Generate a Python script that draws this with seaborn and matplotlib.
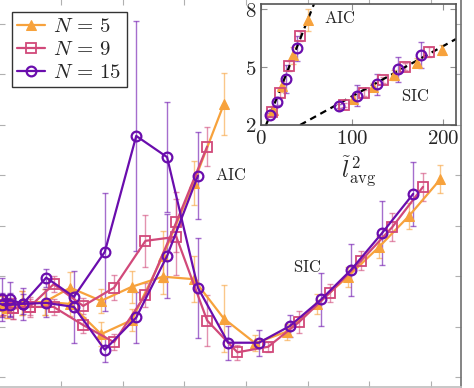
import matplotlib
matplotlib.use("Agg")
import matplotlib.pyplot as plt
import seaborn as sns
import pandas as pd

# ---------------- main panel data ----------------
x5 = [0.05, 0.12, 0.37, 0.74, 1.15, 1.65, 2.15, 2.65, 3.15, 3.64, 4.15, 4.66, 5.15, 5.65, 6.15, 6.64, 7.15]
sic5 = [1.41, 1.37, 1.46, 1.49, 1.77, 1.51, 1.79, 1.99, 1.94, 1.16, 0.67, 0.90, 1.45, 1.99, 2.57, 3.19, 3.92]
sic5_err = [0.2, 0.2, 0.24, 0.26, 0.32, 0.24, 0.32, 0.34, 0.46, 0.67, 0.16, 0.16, 0.2, 0.2, 0.22, 0.26, 0.28]
aic5 = [1.41, 1.37, 1.46, 1.49, 1.45, 0.85, 1.13, 2.39, 3.85, 5.41]
aic5_err = [0.2, 0.2, 0.24, 0.26, 0.24, 0.24, 0.22, 0.5, 0.43, 0.61]

x9 = [0.06, 0.22, 0.49, 0.88, 1.36, 1.86, 2.37, 2.87, 3.37, 3.86, 4.36, 4.86, 5.36, 5.87, 6.37, 6.87]
sic9 = [1.43, 1.36, 1.39, 1.84, 1.41, 1.77, 2.70, 2.78, 1.12, 0.49, 0.60, 1.09, 1.67, 2.31, 2.97, 3.77]
sic9_err = [0.2, 0.2, 0.2, 0.16, 0.16, 0.25, 0.52, 0.75, 0.51, 0.15, 0.1, 0.21, 0.18, 0.18, 0.28, 0.28]
aic9 = [1.43, 1.36, 1.39, 1.39, 1.03, 0.69, 1.63, 3.07, 4.57]
aic9_err = [0.2, 0.2, 0.16, 0.16, 0.16, 0.16, 0.24, 0.6, 0.39]

x15 = [0.05, 0.17, 0.38, 0.76, 1.21, 1.71, 2.22, 2.72, 3.22, 3.71, 4.21, 4.71, 5.22, 5.70, 6.21, 6.71]
sic15 = [1.54, 1.54, 1.45, 1.97, 1.59, 2.48, 4.78, 4.36, 1.77, 0.68, 0.68, 1.01, 1.54, 2.12, 2.86, 3.63]
sic15_err = [0.42, 0.34, 0.32, 0.18, 0.12, 1.17, 2.28, 1.09, 0.99, 0.34, 0.26, 0.21, 0.52, 0.52, 0.63, 0.64]
aic15 = [1.43, 1.43, 1.45, 1.47, 1.39, 0.54, 1.18, 2.40, 3.99]
aic15_err = [0.24, 0.24, 0.2, 0.28, 0.71, 0.24, 0.5, 0.83, 0.86]

# ---------------- inset data ----------------
l2_aic5 = [13.0, 23.0, 35.0, 51.3]
aic5_in = [2.80, 4.00, 5.60, 7.44]
aic5_in_err = [0.2, 0.3, 0.45, 0.58]
l2_aic9 = [11.7, 20.9, 31.1, 42.9]
aic9_in = [2.69, 3.64, 5.07, 6.58]
aic9_in_err = [0.15, 0.2, 0.26, 0.26]
l2_aic15 = [9.9, 17.9, 27.5, 39.2]
aic15_in = [2.52, 3.21, 4.40, 5.97]
aic15_in_err = [0.12, 0.2, 0.72, 0.65]

l2_sic5 = [101.0, 123.4, 146.0, 171.0, 199.0]
sic5_in = [3.35, 3.95, 4.59, 5.23, 5.88]
sic5_in_err = [0.15, 0.2, 0.25, 0.25, 0.26]
l2_sic9 = [91.2, 112.5, 134.4, 157.5, 183.9]
sic9_in = [3.04, 3.64, 4.33, 5.02, 5.77]
sic9_in_err = [0.12, 0.15, 0.15, 0.2, 0.26]
l2_sic15 = [85.7, 105.0, 127.0, 150.0, 176.0]
sic15_in = [3.00, 3.52, 4.10, 4.88, 5.63]
sic15_in_err = [0.1, 0.54, 0.55, 0.65, 0.66]

aic_fit = (0.119, 1.34)   # slope, intercept
sic_fit = (0.026, 0.885)

labels = [r"$N\,=\,5$", r"$N\,=\,9$", r"$N\,=\,15$"]
colors = ["#F7A23C", "#D1497A", "#6A0DAD"]

sns.set_theme(style="ticks")
plt.rcParams["mathtext.fontset"] = "cm"
plt.rcParams["font.family"] = ["DejaVu Serif"]

W, H = 474, 388
fig = plt.figure(figsize=(W / 100, H / 100), dpi=100)
ax = fig.add_axes([-0.67 / W, 1 / H, 461.67 / W, 388 / H])

series = [
    (x5, sic5, sic5_err, aic5, aic5_err),
    (x9, sic9, sic9_err, aic9, aic9_err),
    (x15, sic15, sic15_err, aic15, aic15_err),
]

def mstyle(i):
    if i == 0:
        return dict(marker="^", markersize=6.5, markerfacecolor=colors[0], markeredgecolor=colors[0])
    if i == 1:
        return dict(marker="s", markersize=6.5, markerfacecolor="none", markeredgecolor=colors[1], markeredgewidth=1.3)
    return dict(marker="o", markersize=7, markerfacecolor="none", markeredgecolor=colors[2], markeredgewidth=1.6)

for i, (xs, sic, sice, aic, aice) in enumerate(series):
    c = colors[i]
    xa = xs[:len(aic)]
    ax.errorbar(xs, sic, yerr=sice, fmt="none", ecolor=c, alpha=0.6, elinewidth=1.0, capsize=2.3, capthick=1.0, zorder=1)
    ax.errorbar(xa, aic, yerr=aice, fmt="none", ecolor=c, alpha=0.6, elinewidth=1.0, capsize=2.3, capthick=1.0, zorder=1)
    sns.lineplot(x=xs, y=sic, ax=ax, color=c, lw=1.6, label=labels[i], estimator=None,
                 errorbar=None, zorder=3 + i, **mstyle(i))
    sns.lineplot(x=xa, y=aic, ax=ax, color=c, lw=1.6, estimator=None,
                 errorbar=None, zorder=3 + i, **mstyle(i))

ax.set_xlim(0, 7.486)
ax.set_ylim(-0.198, 7.495)
ax.set_xticks(range(1, 8))
ax.set_yticks(range(0, 8))
ax.set_xticklabels([])
ax.set_yticklabels([])
ax.tick_params(direction="in", length=4.5, width=0.8, color="#b0b0b0", top=True, right=True)
for s in ["top", "left"]:
    ax.spines[s].set_visible(False)
ax.spines["right"].set_color("#707070")
ax.spines["right"].set_linewidth(1.2)
ax.spines["bottom"].set_color("#c0c0c0")
ax.set_xlabel("")
ax.set_ylabel("")

ax.text(3.757, 3.986, r"$\mathrm{AIC}$", fontsize=12, ha="center", va="center")
ax.text(4.989, 2.181, r"$\mathrm{SIC}$", fontsize=12, ha="center", va="center")

leg = ax.legend(loc="upper left", bbox_to_anchor=((11.7 + 0.67) / 461.67, 1 - 12.7 / 388),
                borderaxespad=0, fontsize=15, frameon=True, fancybox=False, framealpha=1,
                edgecolor="#333333", handlelength=1.35, handletextpad=0.4, labelspacing=0.2,
                borderpad=0.25)
leg.get_frame().set_linewidth(1.0)

# ---------------- inset ----------------
axi = fig.add_axes([261 / W, (H - 125) / H, 195 / W, 121 / H])
inset = [
    (l2_aic5, aic5_in, aic5_in_err, l2_sic5, sic5_in, sic5_in_err),
    (l2_aic9, aic9_in, aic9_in_err, l2_sic9, sic9_in, sic9_in_err),
    (l2_aic15, aic15_in, aic15_in_err, l2_sic15, sic15_in, sic15_in_err),
]
axi.axline((0, aic_fit[1]), slope=aic_fit[0], color="black", ls=(0, (3, 2.2)), lw=1.6, zorder=2)
axi.axline((0, sic_fit[1]), slope=sic_fit[0], color="black", ls=(0, (3, 2.2)), lw=1.6, zorder=2)
for i, (xa, ya, ea, xs, ys, es) in enumerate(inset):
    c = colors[i]
    for xx, yy, ee in [(xa, ya, ea), (xs, ys, es)]:
        axi.errorbar(xx, yy, yerr=ee, fmt="none", ecolor=c, alpha=0.6, elinewidth=1.0, capsize=2.3, capthick=1.0, zorder=1)
        sns.lineplot(x=xx, y=yy, ax=axi, color=c, linestyle="", estimator=None, errorbar=None,
                     zorder=3 + i, **mstyle(i))

axi.set_xlim(0, 214)
axi.set_ylim(2, 8.26)
axi.set_xticks([0, 100, 200])
axi.set_xticklabels([r"$0$", r"$100$", r"$200$"])
axi.set_yticks([2, 5, 8])
axi.set_yticklabels([r"$2$", r"$5$", r"$8$"])
axi.tick_params(direction="in", length=4, width=0.8, color="#909090", top=True, right=True,
                labelsize=15, pad=3)
for s in axi.spines.values():
    s.set_color("#555555")
    s.set_linewidth(1.2)
axi.set_xlabel(r"$\widetilde{l}^{\,2}_{\mathrm{avg}}$", fontsize=17, labelpad=5)
axi.set_ylabel("")
axi.text(86.8, 7.52, r"$\mathrm{AIC}$", fontsize=12, ha="center", va="center")
axi.text(169, 3.46, r"$\mathrm{SIC}$", fontsize=12, ha="center", va="center")

fig.savefig("out.png", dpi=100)
